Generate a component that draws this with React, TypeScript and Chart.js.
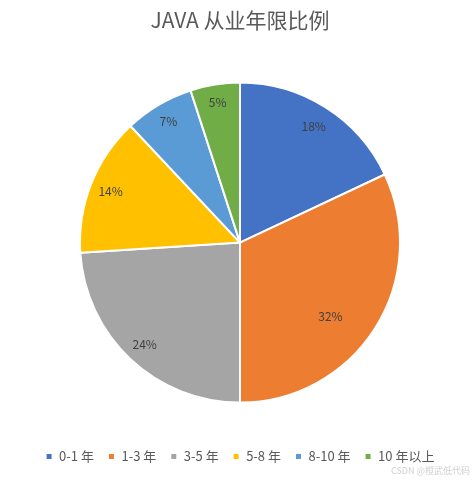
import React, { useEffect, useRef } from 'react';
import { Chart, registerables, Plugin } from 'chart.js';

Chart.register(...registerables);

const categories = ['0-1 年', '1-3 年', '3-5 年', '5-8 年', '8-10 年', '10 年以上'];
const shares = [18, 32, 24, 14, 7, 5];
const sliceColors = ['#4472C4', '#ED7D31', '#A5A5A5', '#FFC000', '#5B9BD5', '#70AD47'];
const chartTitle = 'JAVA 从业年限比例';
const watermark = 'CSDN @橙武低代码';

const FONT = '"Noto Sans CJK SC", "Open Sans", sans-serif';

// percentage labels inside the slices (Excel "best fit"-ish placement)
const pctLabels: Plugin<'pie'> = {
  id: 'pctLabels',
  afterDatasetsDraw(chart) {
    const ctx = chart.ctx;
    const meta = chart.getDatasetMeta(0);
    const radial = [0.86, 0.73, 0.87, 0.87, 0.88, 0.89];
    const turn = [0, 0.12, 0, 0, 0, 0];
    ctx.save();
    ctx.fillStyle = '#404040';
    ctx.font = `12px ${FONT}`;
    ctx.textAlign = 'center';
    ctx.textBaseline = 'middle';
    meta.data.forEach((el: any, i) => {
      const mid = (el.startAngle + el.endAngle) / 2 + turn[i];
      const r = el.outerRadius * radial[i];
      ctx.fillText(shares[i] + '%', el.x + Math.cos(mid) * r, el.y + Math.sin(mid) * r);
    });
    ctx.restore();
  },
};

const App: React.FC = () => {
  const chartRef = useRef<HTMLCanvasElement>(null);

  useEffect(() => {
    const ctx = chartRef.current?.getContext('2d');
    if (!ctx) {
      return;
    }
    const chart = new Chart(ctx, {
      type: 'pie',
      data: {
        labels: categories,
        datasets: [
          {
            data: shares,
            backgroundColor: sliceColors,
            borderColor: '#ffffff',
            borderWidth: 2,
            radius: 160,
          },
        ],
      },
      options: {
        animation: false,
        responsive: true,
        maintainAspectRatio: false,
        layout: { padding: { top: 0, bottom: 8, left: 6, right: 0 } },
        plugins: {
          title: {
            display: true,
            text: chartTitle,
            color: '#595959',
            font: { family: FONT, size: 21, weight: 'normal' },
            padding: { top: 7, bottom: 17 },
          },
          legend: {
            position: 'bottom',
            labels: {
              color: '#595959',
              font: { family: FONT, size: 13 },
              boxWidth: 7,
              boxHeight: 7,
              padding: 14,
            },
          },
          tooltip: { enabled: false },
        },
      },
      plugins: [pctLabels],
    });
    return () => {
      chart.destroy();
    };
  }, []);

  return (
    <div style={{ position: 'absolute', left: 0, top: 0, width: 474, height: 481, background: '#fff' }}>
      <canvas ref={chartRef}></canvas>
      <div
        style={{
          position: 'absolute',
          right: 4,
          bottom: 4,
          fontSize: 9,
          color: '#d0d0d0',
          fontFamily: FONT,
        }}
      >
        {watermark}
      </div>
    </div>
  );
};

export default App;
